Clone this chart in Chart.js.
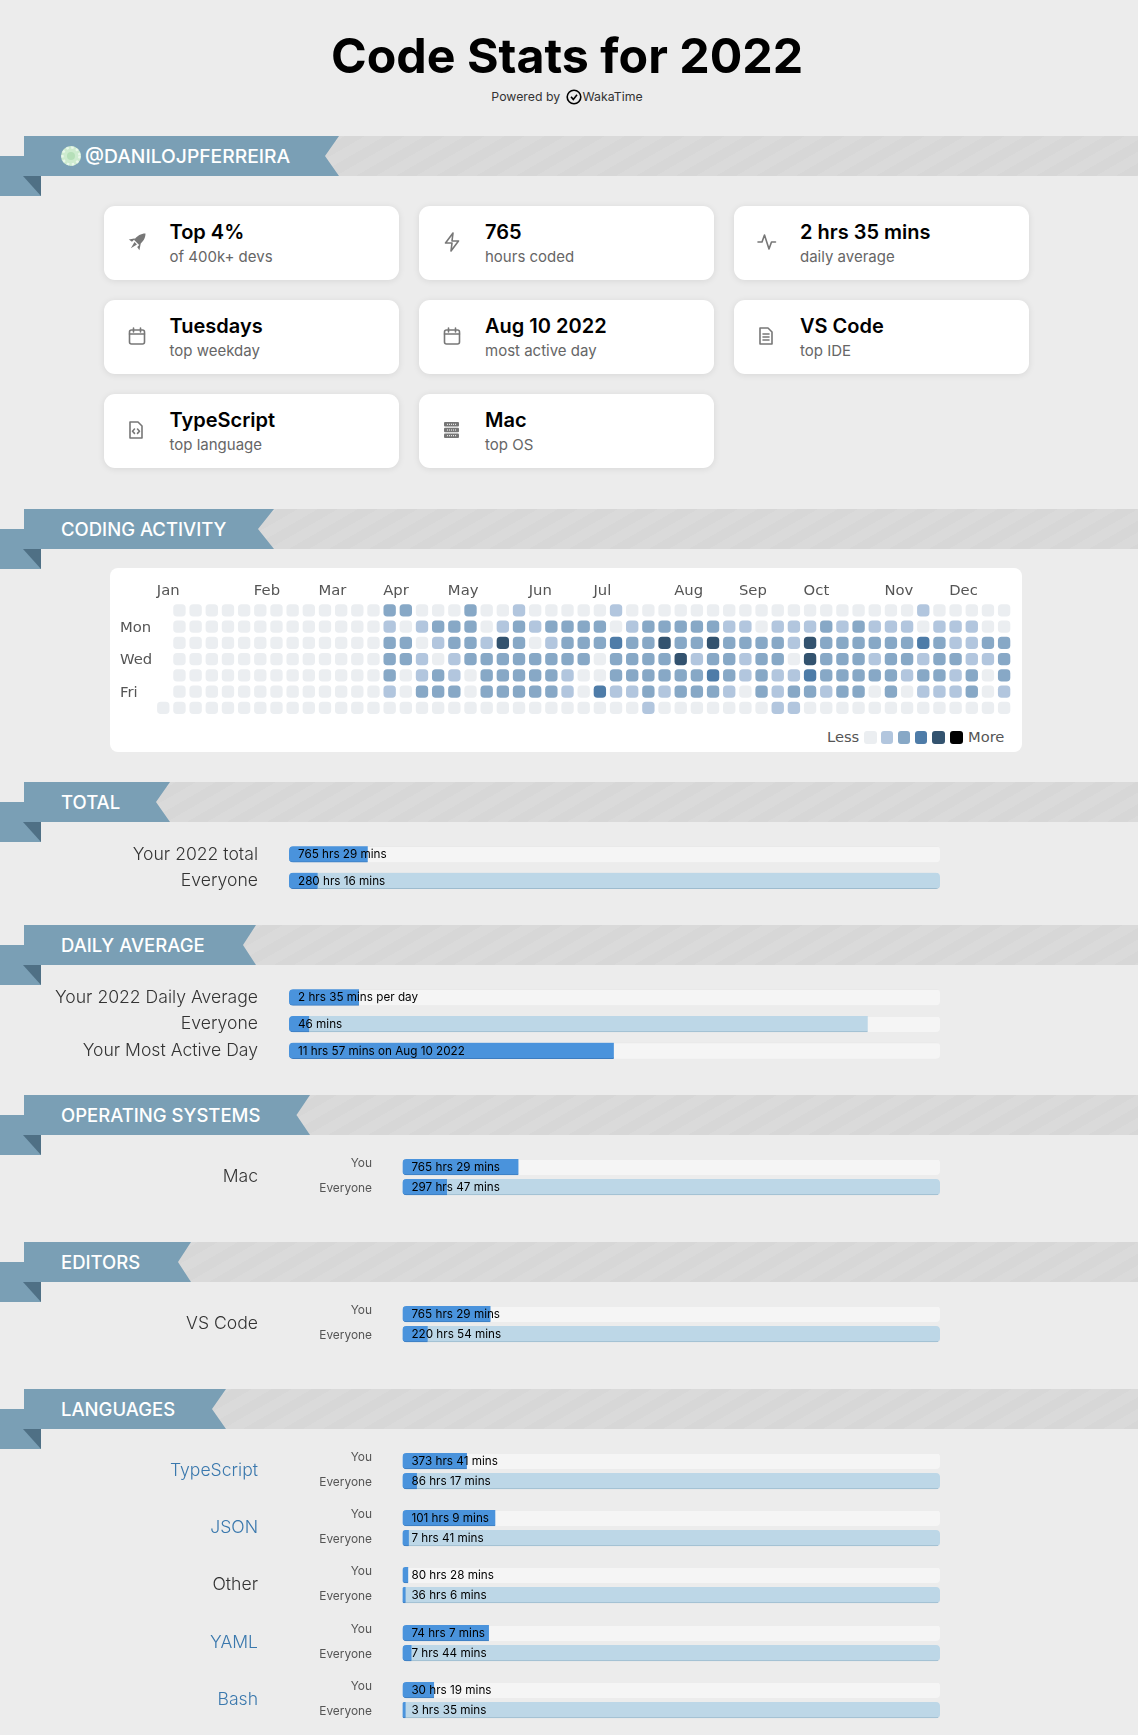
<!DOCTYPE html>
<html>
<head>
<meta charset="utf-8">
<title>Code Stats for 2022</title>
<script src="https://cdn.jsdelivr.net/npm/chart.js@4"></script>
<style>
  html, body { margin: 0; padding: 0; }
  body { position: relative; width: 1138px; height: 1735px; background: #ececec; font-family: Inter, sans-serif; overflow: hidden; }
  .abs, canvas { position: absolute; }
  h1 { position: absolute; left: -2px; width: 1138px; top: 26px; margin: 0; text-align: center; font-size: 48.3px; line-height: 60px; font-weight: 700; color: #000; }
  .powered { position: absolute; left: -2px; width: 1138px; top: 88px; text-align: center; font-size: 12.3px; line-height: 18px; color: #333; }
  .powered svg { vertical-align: -4px; margin: 0 1px 0 2px; }
  .band { position: absolute; right: 0; height: 40px; background: repeating-linear-gradient(150deg, #dadada 0 10px, #d7d7d7 10px 20px); }
  .fold { position: absolute; left: 0; width: 41px; height: 40px; background: #7a9fb5; }
  .dark { position: absolute; left: 23px; width: 18px; height: 20px; background: #4f7085; clip-path: polygon(0 0, 100% 0, 100% 100%); }
  .ribbon { position: absolute; left: 23.5px; height: 40px; background: #7a9fb5; color: #fff; font-size: 18.5px; line-height: 40px; font-weight: 500; box-sizing: border-box; padding-left: 37.5px; white-space: nowrap; }
  .card { position: absolute; width: 295px; height: 74px; background: #fff; border-radius: 11px; box-shadow: 0 1px 7px rgba(0,0,0,.09); }
  .card b { position: absolute; left: 66px; top: 13px; font-size: 20px; line-height: 26px; font-weight: 600; color: #000; white-space: nowrap; }
  .card span { position: absolute; left: 66px; top: 41px; font-size: 15px; line-height: 20px; color: #666; white-space: nowrap; }
  .card svg { position: absolute; left: 23px; top: 26px; }
  .heat { position: absolute; left: 110px; top: 568px; width: 912px; height: 184px; background: #fff; border-radius: 8px; }
  .legendText { position: absolute; font-family: "DejaVu Sans", sans-serif; font-size: 14.7px; line-height: 18px; color: #555; top: 728px; }
  .legendCell { position: absolute; width: 12.5px; height: 12.5px; top: 731px; border-radius: 3px; }
</style>
</head>
<body>
<h1>Code Stats for 2022</h1>
<div class="powered">Powered by <svg width="16" height="16" viewBox="0 0 16 16"><circle cx="8" cy="8" r="6.8" fill="none" stroke="#000" stroke-width="1.6"/><path d="M5 7.8l2.3 2.6L11 5.8" fill="none" stroke="#000" stroke-width="1.6"/></svg>WakaTime</div>
<div class="heat"></div>
<script>
// Stat cards
const cardTitles = ["Top 4%", "765", "2 hrs 35 mins", "Tuesdays", "Aug 10 2022", "VS Code", "TypeScript", "Mac"];
const cardSubtitles = ["of 400k+ devs", "hours coded", "daily average", "top weekday", "most active day", "top IDE", "top language", "top OS"];

// Heatmap: activity level per week column, one list per weekday (null = before Jan 1)
const monthLabels = ["Jan", "Feb", "Mar", "Apr", "May", "Jun", "Jul", "Aug", "Sep", "Oct", "Nov", "Dec"];
const monthColumns = [0, 6, 10, 14, 18, 23, 27, 32, 36, 40, 45, 49];
const dayLabels = ["Mon", "Wed", "Fri"];
const dayRows = [1, 3, 5];
const heatColors = ["#ebeef1", "#b2c6de", "#87a8c6", "#4e7ca8", "#33536f", "#000000"];
const sunLevels = [null,0,0,0,0,0,0,0,0,0,0,0,0,0,2,2,0,0,0,2,0,0,1,0,0,0,0,0,1,0,0,0,0,0,0,0,0,0,0,0,0,0,0,0,0,0,0,1,0,0,0,0,0];
const monLevels = [null,0,0,0,0,0,0,0,0,0,0,0,0,0,1,0,1,2,2,2,0,1,2,1,2,2,2,2,0,1,2,2,2,2,2,1,1,0,1,1,1,2,1,2,1,1,1,0,1,1,1,0,0];
const tueLevels = [null,0,0,0,0,0,0,0,0,0,0,0,0,0,2,2,0,1,2,2,1,4,2,0,1,2,2,2,3,2,2,4,2,2,4,2,2,2,2,1,4,2,2,2,2,2,2,3,2,1,1,2,2];
const wedLevels = [null,0,0,0,0,0,0,0,0,0,0,0,0,0,2,2,1,0,1,2,2,2,2,2,2,2,2,0,2,2,2,2,4,1,2,2,1,2,2,0,4,2,2,2,1,2,2,1,2,2,1,1,2];
const thuLevels = [null,0,0,0,0,0,0,0,0,0,0,0,0,0,2,0,1,2,1,0,2,2,2,2,2,1,0,0,2,2,2,2,2,2,3,2,1,2,1,1,3,2,2,2,2,2,1,2,2,1,2,0,2];
const friLevels = [null,0,0,0,0,0,0,0,0,0,0,0,0,0,1,0,2,2,2,0,2,2,2,2,2,1,0,3,1,1,2,1,2,2,2,1,0,2,1,2,2,1,2,2,0,2,0,1,1,1,2,0,1];
const satLevels = [0,0,0,0,0,0,0,0,0,0,0,0,0,0,0,0,0,0,0,0,0,0,0,0,0,0,0,0,0,0,1,0,0,0,0,0,0,0,1,1,0,0,0,0,0,0,0,0,0,0,0,0,0];

// Bars: fill widths in % of the track
const totalLabels = ["Your 2022 total", "Everyone"];
const totalFill = [12.1, 4.4];
const totalLight = [0, 100];
const totalTexts = ["765 hrs 29 mins", "280 hrs 16 mins"];

const dailyLabels = ["Your 2022 Daily Average", "Everyone", "Your Most Active Day"];
const dailyFill = [10.75, 3.1, 49.9];
const dailyLight = [0, 88.9, 0];
const dailyTexts = ["2 hrs 35 mins per day", "46 mins", "11 hrs 57 mins on Aug 10 2022"];

const compareLabels = ["You", "Everyone"];
const osFill = [21.6, 8.3];
const osTexts = ["765 hrs 29 mins", "297 hrs 47 mins"];
const editorFill = [16.4, 4.7];
const editorTexts = ["765 hrs 29 mins", "220 hrs 54 mins"];

const languageNames = ["TypeScript", "JSON", "Other", "YAML", "Bash"];
const languageYouFill = [12.0, 17.3, 1.1, 16.1, 5.9];
const languageEveryoneFill = [2.7, 1.2, 0.6, 1.7, 0.6];
const languageYouTexts = ["373 hrs 41 mins", "101 hrs 9 mins", "80 hrs 28 mins", "74 hrs 7 mins", "30 hrs 19 mins"];
const languageEveryoneTexts = ["86 hrs 17 mins", "7 hrs 41 mins", "36 hrs 6 mins", "7 hrs 44 mins", "3 hrs 35 mins"];
const languageColors = ["#3a78ad", "#3a78ad", "#333333", "#3a78ad", "#3a78ad"];

// Page furniture
function addRibbon(top, right, tip, html) {
  document.body.insertAdjacentHTML('beforeend',
    `<div class="band" style="top:${top}px;left:${tip}px"></div>` +
    `<div class="fold" style="top:${top + 20}px"></div>` +
    `<div class="dark" style="top:${top + 40}px"></div>` +
    `<div class="ribbon" style="top:${top}px;width:${right - 23.5}px;clip-path:polygon(0 0,100% 0,${tip - 23.5}px 50%,100% 100%,0 100%)">${html}</div>`);
}

const avatar = '<svg style="position:absolute;left:37px;top:10px" width="20" height="20" viewBox="0 0 20 20"><circle cx="10" cy="10" r="10" fill="#cdebcf"/><circle cx="10" cy="10" r="8.5" fill="none" stroke="#e9f7ea" stroke-width="2.4" stroke-dasharray="2.5 2.5"/><circle cx="10" cy="10" r="4" fill="#b5dfb8"/></svg>';
addRibbon(136, 339, 325, avatar + '<span style="padding-left:24px;font-size:19.3px">@DANILOJPFERREIRA</span>');
addRibbon(509, 274, 258, 'CODING ACTIVITY');
addRibbon(782, 170, 156, 'TOTAL');
addRibbon(925, 256, 243, 'DAILY AVERAGE');
addRibbon(1095, 310, 296.5, 'OPERATING SYSTEMS');
addRibbon(1242, 191, 178, 'EDITORS');
addRibbon(1389, 226, 212, 'LANGUAGES');

const ic = 'fill="none" stroke="#777" stroke-width="1.6" stroke-linecap="round" stroke-linejoin="round"';
const cardIcons = [
  `<g transform="rotate(45 10 10) translate(-1.5 -2) scale(1.15)"><path d="M10 0c3 3 3.4 6 3.2 11H6.8C6.6 6 7 3 10 0z M6.8 9L3.5 14l3.3-.6z M13.2 9l3.3 5-3.3-.6z M8.5 12h3l-1.5 6z" fill="#777"/></g>`,
  `<path d="M11 1L3.5 11H10l-1 8 7.5-10H10z" ${ic}/>`,
  `<path d="M1 10h4l2.5-7 4.5 14 2.5-7h4" ${ic}/>`,
  `<rect x="2.5" y="4" width="15" height="14" rx="2" ${ic}/><path d="M2.5 8h15M6.5 2v4M13.5 2v4" ${ic}/>`,
  `<rect x="2.5" y="4" width="15" height="14" rx="2" ${ic}/><path d="M2.5 8h15M6.5 2v4M13.5 2v4" ${ic}/>`,
  `<path d="M3 2h8l4 4v12H3z" ${ic}/><path d="M6 8h6M6 11h6M6 14h6" ${ic}/>`,
  `<path d="M3 2h8l4 4v12H3z" ${ic}/><path d="M7.5 9l-2 2.2 2 2.2M10.5 9l2 2.2-2 2.2" ${ic}/>`,
  `<g fill="#777"><rect x="2" y="2" width="15" height="4.6" rx="1"/><rect x="2" y="7.7" width="15" height="4.6" rx="1"/><rect x="2" y="13.4" width="15" height="4.6" rx="1"/></g><path d="M5 4.3h9M5 10h9M5 15.7h9" stroke="#fff" stroke-width="1" stroke-dasharray="1 1"/>`
];
const cardLefts = [103.5, 419, 734];
const cardTops = [206, 300, 394];
cardTitles.forEach((title, i) => {
  const left = cardLefts[i % 3], top = cardTops[Math.floor(i / 3)];
  document.body.insertAdjacentHTML('beforeend',
    `<div class="card" style="left:${left}px;top:${top}px"><svg width="20" height="20" viewBox="0 0 20 20">${cardIcons[i]}</svg><b>${title}</b><span>${cardSubtitles[i]}</span></div>`);
});

// Heatmap legend
document.body.insertAdjacentHTML('beforeend',
  '<div class="legendText" style="left:827px">Less</div><div class="legendText" style="left:968px">More</div>');
[864, 880.5, 897.5, 914.5, 932, 950].forEach((left, i) => {
  document.body.insertAdjacentHTML('beforeend',
    `<div class="legendCell" style="left:${left}px;background:${heatColors[i]}"></div>`);
});

function addCanvas(id, left, top, width, height) {
  const canvas = document.createElement('canvas');
  canvas.id = id;
  canvas.width = width;
  canvas.height = height;
  canvas.style.left = left + 'px';
  canvas.style.top = top + 'px';
  canvas.style.width = width + 'px';
  canvas.style.height = height + 'px';
  document.body.appendChild(canvas);
  return canvas;
}

// Fixed axis box: label overhang must not shrink the plot area
function fixAxis(axis, size) {
  if (axis.isHorizontal()) axis.height = size;
  else axis.width = size;
  axis.paddingLeft = axis.paddingRight = axis.paddingTop = axis.paddingBottom = 0;
}

// Heatmap chart
function renderHeatmap() {
  const ctx = addCanvas('activityChart', 110, 568, 912, 148);
  const rows = [sunLevels, monLevels, tueLevels, wedLevels, thuLevels, friLevels, satLevels];
  const datasets = rows.map((levels, row) => {
    const cols = levels.map((lv, c) => c).filter(c => levels[c] !== null);
    return {
      data: cols.map(c => ({ x: c, y: row })),
      pointStyle: 'rectRounded',
      pointRadius: 7.2,
      pointBorderWidth: 0,
      pointBackgroundColor: cols.map(c => heatColors[levels[c]])
    };
  });
  const tickFont = { family: '"DejaVu Sans"', size: 14.8 };
  new Chart(ctx, {
    type: 'scatter',
    data: { datasets },
    options: {
      responsive: false,
      animation: false,
      events: [],
      clip: false,
      layout: { autoPadding: false, padding: { left: 10, right: 9.8, top: 0, bottom: 0 } },
      plugins: { legend: { display: false }, tooltip: { enabled: false } },
      scales: {
        x: {
          type: 'linear',
          position: 'top',
          min: -0.5,
          max: 52.5,
          grid: { display: false, drawTicks: false },
          border: { display: false },
          afterBuildTicks: axis => { axis.ticks = monthColumns.map(c => ({ value: c - 0.4 })); },
          afterFit: axis => fixAxis(axis, 34.2),
          ticks: {
            autoSkip: false, maxRotation: 0, align: 'start', padding: 2, color: '#555', font: tickFont,
            callback: (v, i) => monthLabels[i]
          }
        },
        y: {
          type: 'linear',
          reverse: true,
          min: -0.5,
          max: 6.5,
          grid: { display: false, drawTicks: false },
          border: { display: false },
          afterBuildTicks: axis => { axis.ticks = dayRows.map(r => ({ value: r + 0.08 })); },
          afterFit: axis => fixAxis(axis, 35.2),
          ticks: {
            autoSkip: false, crossAlign: 'far', color: '#555', font: tickFont,
            callback: (v, i) => dayLabels[i]
          }
        }
      }
    }
  });
}

// Text written over the bars, from the dataset that holds the fill
const barTextPlugin = {
  id: 'barText',
  afterDatasetsDraw(chart, args, opts) {
    const { ctx, chartArea } = chart;
    const meta = chart.getDatasetMeta(2);
    ctx.save();
    ctx.font = '11.7px Inter';
    ctx.fillStyle = '#000';
    ctx.textBaseline = 'middle';
    meta.data.forEach((bar, i) => ctx.fillText(opts.texts[i], chartArea.left + 9, bar.y + 0.5));
    ctx.restore();
  }
};

function leftRadius(context) {
  const full = context.raw >= 100 ? 4 : 0;
  return { topLeft: 4, bottomLeft: 4, topRight: full, bottomRight: full };
}

function barDatasets(fill, light) {
  return [
    { data: fill.map(() => 100), backgroundColor: '#f5f5f5', borderColor: '#e9e9e9', borderWidth: { top: 1 }, borderRadius: 4, borderSkipped: false, order: 3 },
    { data: light, backgroundColor: '#bdd7e7', borderColor: '#9dbbce', borderWidth: { bottom: 1 }, borderRadius: leftRadius, borderSkipped: false, order: 2 },
    { data: fill, backgroundColor: '#4a93dc', borderColor: '#3c7cc0', borderWidth: { bottom: 1 }, borderRadius: leftRadius, borderSkipped: false, order: 1 }
  ];
}

function barOptions(texts, scales) {
  return {
    indexAxis: 'y',
    responsive: false,
    animation: false,
    events: [],
    datasets: { bar: { grouped: false, barThickness: 16 } },
    plugins: { legend: { display: false }, tooltip: { enabled: false }, barText: { texts } },
    scales: Object.assign({
      x: { display: false, min: 0, max: 100 }
    }, scales)
  };
}

// Rows with one big label each (Total, Daily Average)
function renderRowChart(id, top, labels, fill, light, texts) {
  const ctx = addCanvas(id, 0, top, 940, Math.round(labels.length * 26.5));
  new Chart(ctx, {
    type: 'bar',
    data: { labels, datasets: barDatasets(fill, light) },
    options: barOptions(texts, {
      y: {
        grid: { display: false, drawTicks: false },
        border: { display: false },
        afterFit: axis => fixAxis(axis, 289),
        ticks: { autoSkip: false, padding: 31, color: '#333', font: { family: 'Inter', size: 17.6, weight: '300' } }
      }
    }),
    plugins: [barTextPlugin]
  });
}

// You / Everyone pair under a group name (OS, editors, languages)
function renderCompareChart(id, top, name, nameColor, fill, texts) {
  const ctx = addCanvas(id, 0, top, 940, 40);
  new Chart(ctx, {
    type: 'bar',
    data: { labels: compareLabels, datasets: barDatasets(fill, [0, 100]) },
    options: barOptions(texts, {
      y: {
        grid: { display: false, drawTicks: false },
        border: { display: false },
        afterBuildTicks: axis => { axis.ticks = [{ value: -0.2 }, { value: 1.09 }]; },
        afterFit: axis => fixAxis(axis, 144.4),
        ticks: {
          autoSkip: false, padding: 30.4, color: '#555', font: { family: 'Inter', size: 11.9 },
          callback: (v, i) => compareLabels[i]
        }
      },
      group: {
        type: 'category',
        axis: 'y',
        position: 'left',
        weight: 1,
        labels: [name],
        offset: true,
        grid: { display: false, drawTicks: false },
        border: { display: false },
        afterFit: axis => fixAxis(axis, 258),
        ticks: { autoSkip: false, padding: 0, color: nameColor, font: { family: 'Inter', size: 17.6, weight: '300' } }
      }
    }),
    plugins: [barTextPlugin]
  });
}

renderHeatmap();
renderRowChart('totalChart', 841, totalLabels, totalFill, totalLight, totalTexts);
renderRowChart('dailyChart', 984, dailyLabels, dailyFill, dailyLight, dailyTexts);
renderCompareChart('osChart', 1157, 'Mac', '#333333', osFill, osTexts);
renderCompareChart('editorChart', 1304, 'VS Code', '#333333', editorFill, editorTexts);

const languageTops = [1451, 1508, 1565, 1623, 1680];
languageNames.forEach((name, i) => {
  renderCompareChart('languageChart' + i, languageTops[i], name, languageColors[i],
    [languageYouFill[i], languageEveryoneFill[i]],
    [languageYouTexts[i], languageEveryoneTexts[i]]);
});
</script>
</body>
</html>
